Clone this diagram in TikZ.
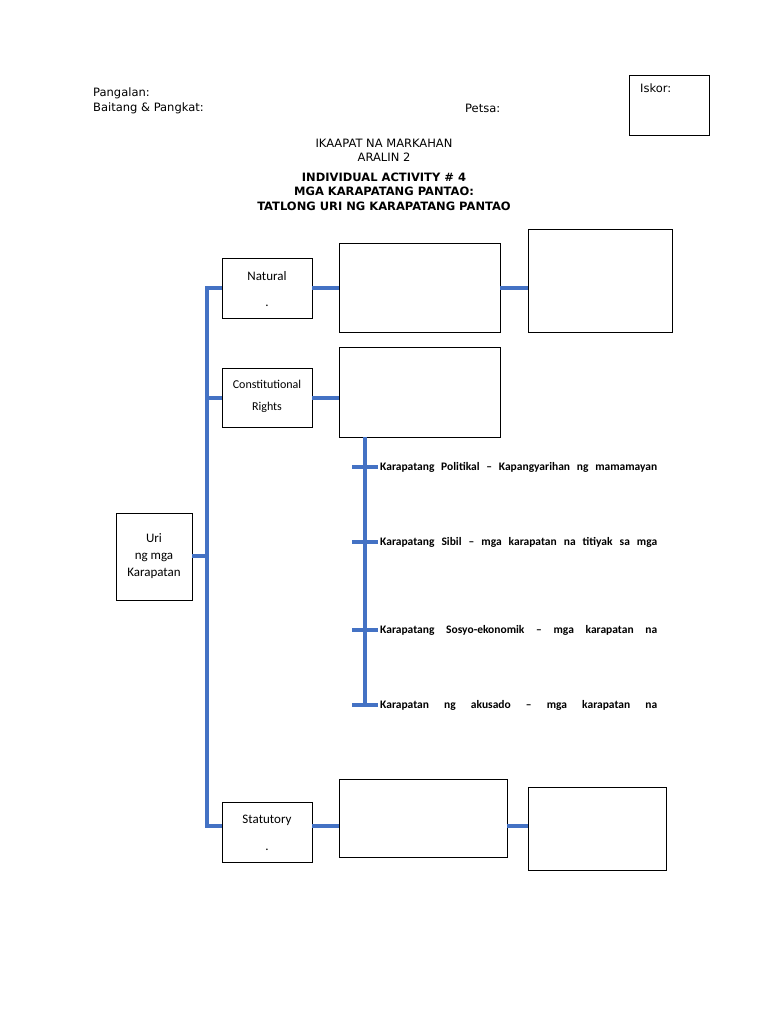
\documentclass[tikz,border=0pt]{standalone}
\usepackage{fontspec}
\setmainfont{DejaVu Sans}
\newfontfamily\carl{Carlito}
\definecolor{lineblue}{RGB}{68,114,196}
\tikzset{
  head/.style={font=\fontsize{11.5}{13}\selectfont, inner sep=0},
  title/.style={font=\bfseries\fontsize{11.5}{13}\selectfont, inner sep=0},
  label/.style={font=\carl\fontsize{13}{17}\selectfont, align=center},
  link/.style={lineblue, line width=3.5pt},
  item/.style={right, font=\carl\bfseries\fontsize{11.5}{13}\selectfont, inner sep=1pt}
}
\begin{document}
\begin{tikzpicture}[x=1pt,y=-1pt]
\useasboundingbox (0,0) rectangle (768,1024);
% header
\node[head, right] (name) at (93,93) {Pangalan:};
\node[head, right] (grade) at (93,108) {Baitang \& Pangkat:};
\node[head, right] (date) at (465,108) {Petsa:};
\draw (629,75) rectangle (709,135);
\node[head, right] (score) at (640,88) {Iskor:};
\node[head] (t1) at (384,143) {IKAAPAT NA MARKAHAN};
\node[head] (t2) at (384,157) {ARALIN 2};
\node[title] (t3) at (384,177) {INDIVIDUAL ACTIVITY \# 4};
\node[title] (t4) at (384,191) {MGA KARAPATANG PANTAO:};
\node[title] (t5) at (384,206) {TATLONG URI NG KARAPATANG PANTAO};
% boxes
\draw (222,258) rectangle (312,318);
\node[label] (nat) at (267,276) {Natural};
\node[label] at (267,306) {.};
\draw (222,368) rectangle (312,427);
\node[label, font=\carl\fontsize{12}{22}\selectfont] (con) at (267,396) {Constitutional\\Rights};
\draw (116,513) rectangle (192,600);
\node[label] (uri) at (154,556) {Uri\\ng mga\\Karapatan};
\draw (222,802) rectangle (312,862);
\node[label] (stat) at (267,820) {Statutory};
\node[label] at (267,850) {.};
\draw (339,243) rectangle (500,332);
\draw (528,229) rectangle (672,332);
\draw (339,347) rectangle (500,437);
\draw (339,779) rectangle (507,857);
\draw (528,787) rectangle (666,870);
% blue connectors
\draw[link] (222,288) -- (207,288) -- (207,826) -- (222,826);
\draw[link] (207,398) -- (222,398);
\draw[link] (192,556) -- (207,556);
\draw[link] (312,288) -- (339,288);
\draw[link] (500,288) -- (528,288);
\draw[link] (312,398) -- (339,398);
\draw[link] (312,826) -- (339,826);
\draw[link] (507,826) -- (528,826);
\draw[link] (365,437) -- (365,705);
\foreach \y in {467,542,630,705}
  \draw[link] (352,\y) -- (378,\y);
% rights list
\node[item] (pol) at (379,467) {\makebox[277pt][s]{Karapatang Politikal – Kapangyarihan ng mamamayan}};
\node[item] (sib) at (379,542) {\makebox[277pt][s]{Karapatang Sibil – mga karapatan na titiyak sa mga}};
\node[item] (sos) at (379,630) {\makebox[277pt][s]{Karapatang Sosyo-ekonomik – mga karapatan na}};
\node[item] (aku) at (379,705) {\makebox[277pt][s]{Karapatan ng akusado – mga karapatan na}};
\end{tikzpicture}
\end{document}
